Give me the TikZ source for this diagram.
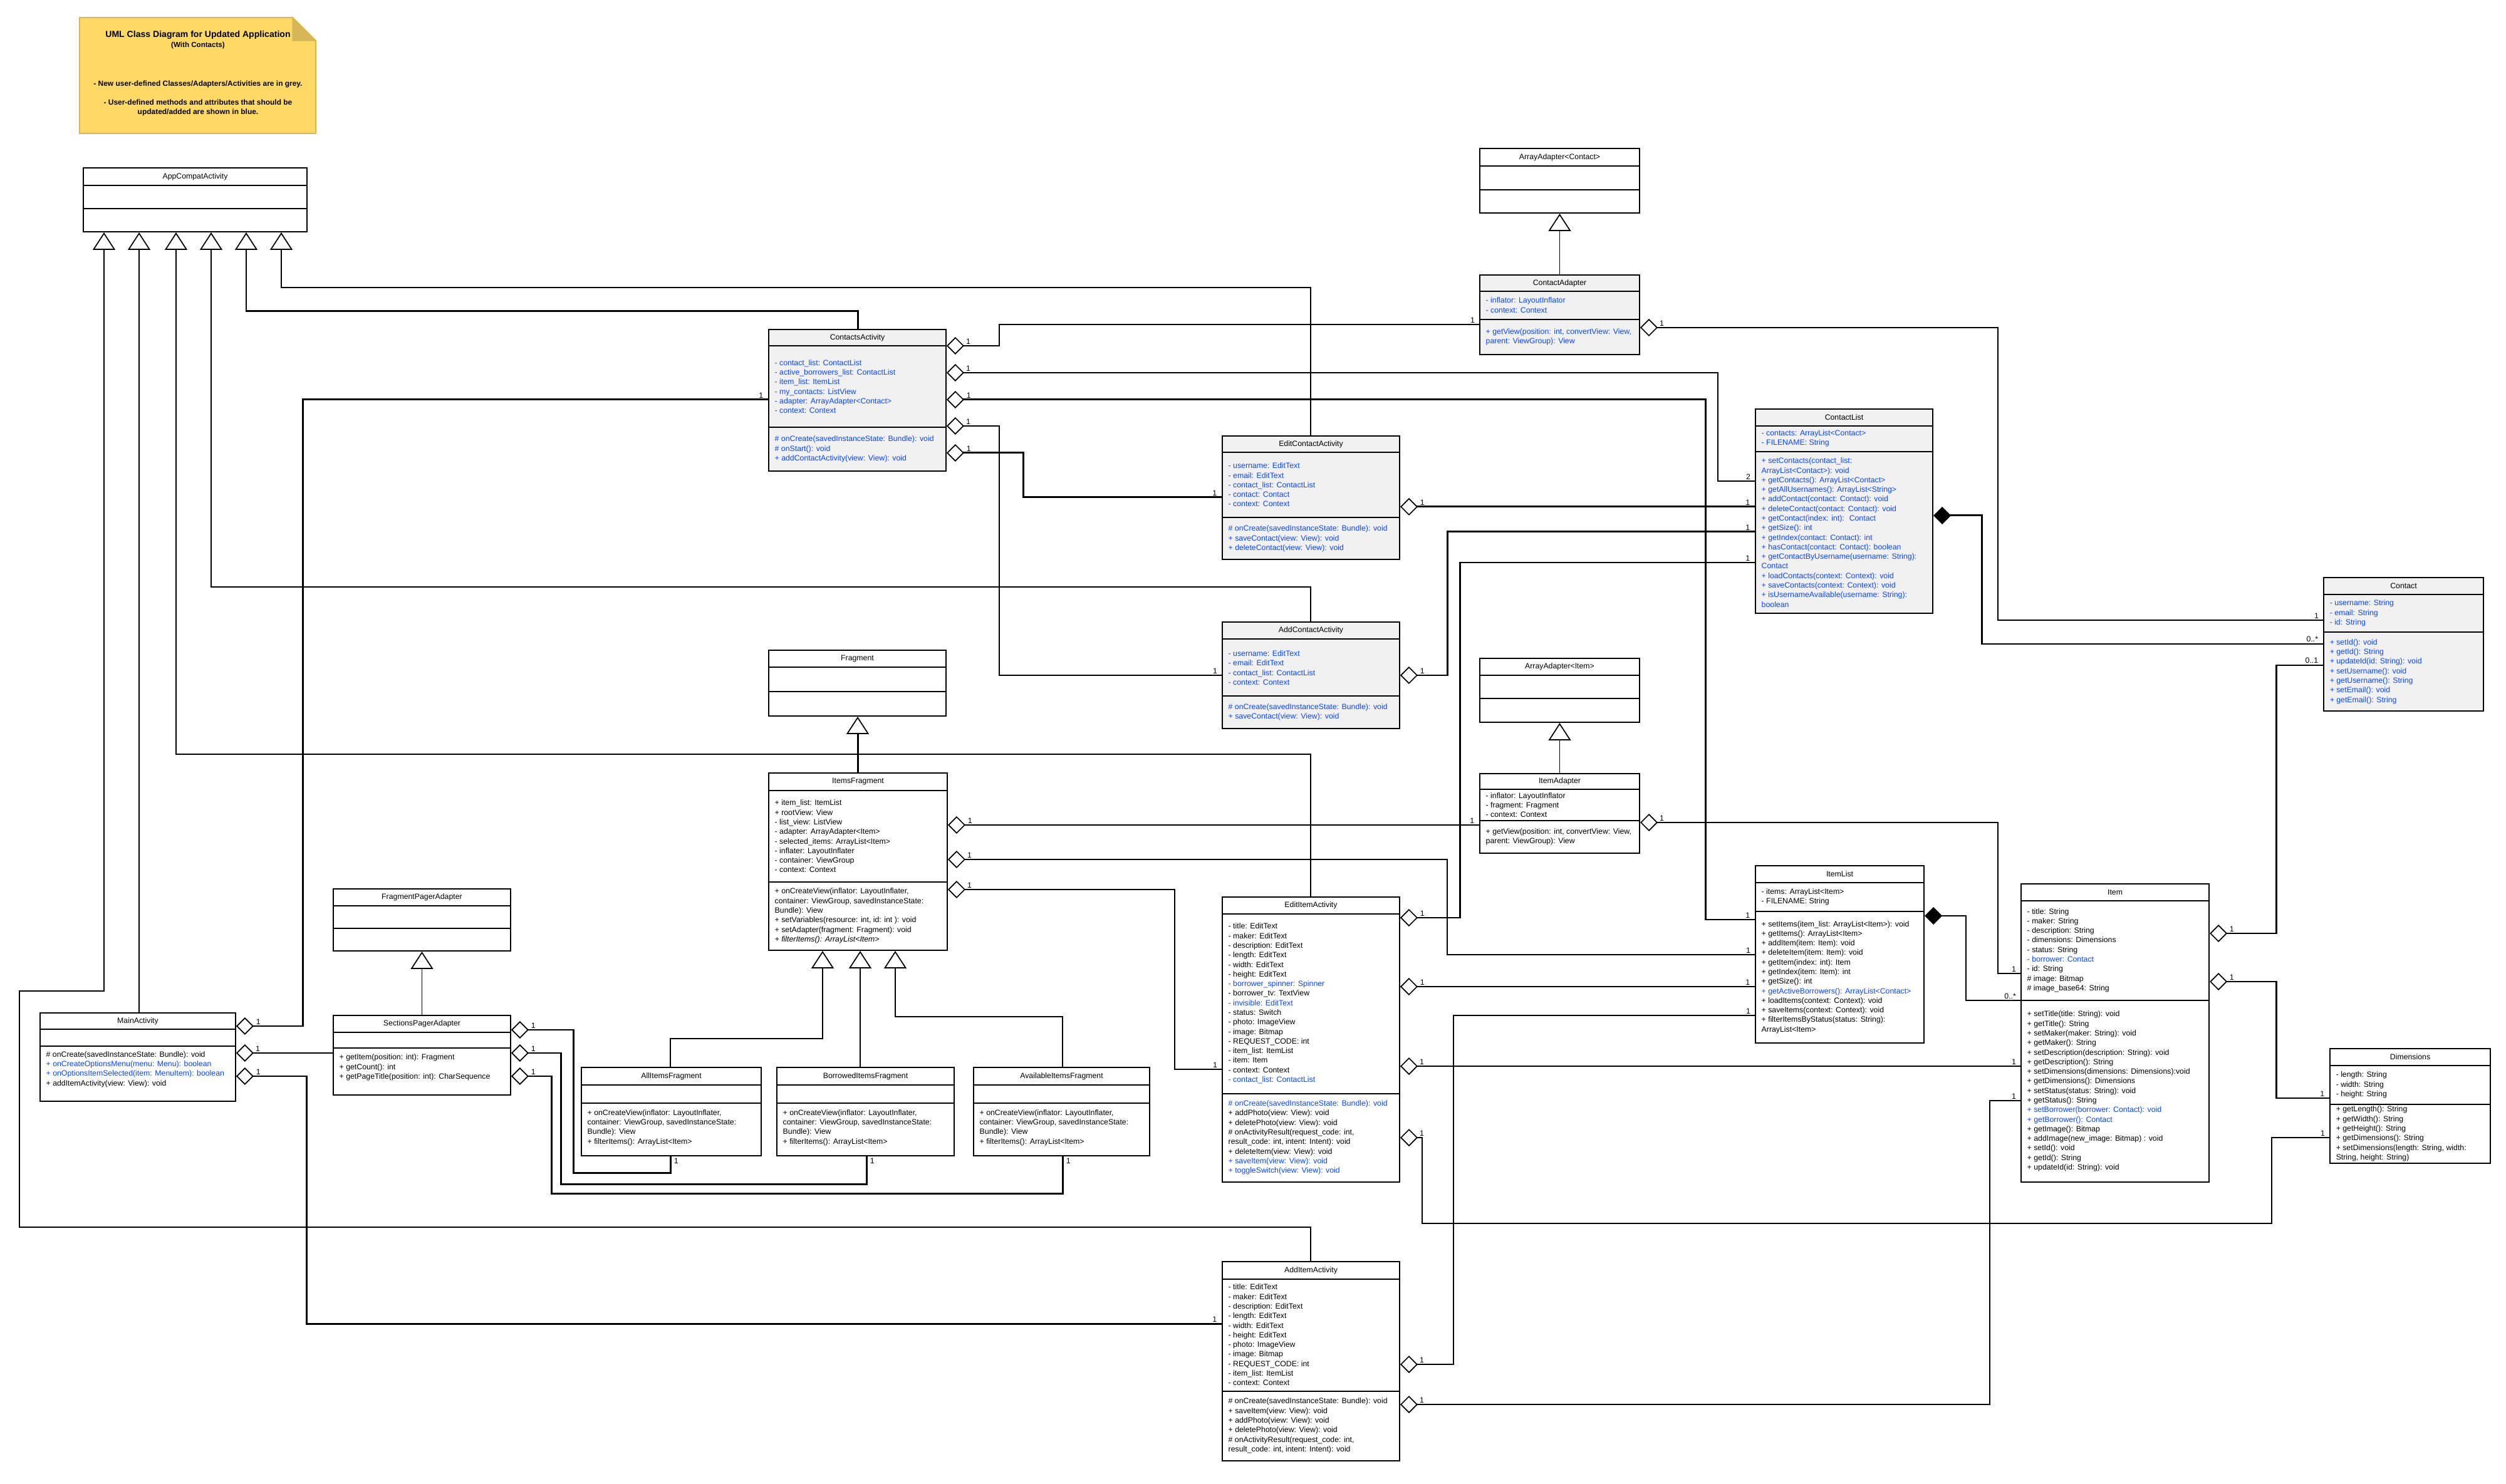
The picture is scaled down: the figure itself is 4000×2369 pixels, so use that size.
\documentclass[tikz,border=0pt]{standalone}
\usepackage{fontspec}
\newfontfamily\umlsans{Liberation Sans}
\usetikzlibrary{arrows.meta,fit}
\definecolor{ublue}{RGB}{10,70,255}
\definecolor{ugrey}{RGB}{241,241,241}
\definecolor{noteyel}{HTML}{FFD966}
\definecolor{notebrd}{HTML}{D6B656}
\newcommand\uml{\umlsans\fontsize{3.5}{4.35}\selectfont}
\newcommand\umlclass[9][white]{\node[cls,fill=#1,fit={(#3,#4)(#5,#6)}](#2){};
 \draw[cls](#3,#7)--(#5,#7) (#3,#8)--(#5,#8);
 \node[ttl](#2-t)at({(#3+#5)/2},{(#4+#7)/2}){#9};}
\tikzset{cls/.style={draw,line width=0.55pt,inner sep=0pt},
 txt/.style={font=\uml,anchor=west,align=left,inner sep=0pt},
 ttl/.style={font=\uml,inner sep=0pt},
 lnk/.style={line width=0.45pt},thk/.style={line width=0.85pt},
 agg/.style={arrows={{Diamond[open,length=2.8mm,width=2.8mm,line width=0.5pt]}-}},
 cmp/.style={arrows={{Diamond[length=2.8mm,width=2.8mm,line width=0.5pt]}-}},
 inh/.style={arrows={-{Triangle[open,length=2.8mm,width=3.6mm,line width=0.5pt]}}},
 m1/.style={font=\uml,anchor=south west,inner sep=0.4pt,xshift=2.9mm},
 m2/.style={font=\uml,anchor=south east,inner sep=0.4pt,xshift=-0.5mm},
 m3/.style={font=\uml,anchor=north west,inner sep=0.4pt,xshift=0.3mm}}
\begin{document}
\begin{tikzpicture}[x=0.1mm,y=-0.1mm]
\useasboundingbox (0,0) rectangle (4000,2369);
\fill[white](0,0) rectangle (4000,2369);
\filldraw[fill=noteyel,draw=notebrd,line width=0.5pt](127,28)--(467,28)--(504,65)--(504,213)--(127,213)--cycle;
\filldraw[fill=notebrd,draw=notebrd](467,28)--(467,65)--(504,65)--cycle;
\node[font=\umlsans\bfseries\fontsize{4}{5}\selectfont](nt1)at(316,56){UML Class Diagram for Updated Application};
\node[font=\umlsans\bfseries\fontsize{3.3}{4}\selectfont](nt2)at(316,73){(With Contacts)};
\node[font=\umlsans\bfseries\fontsize{3.4}{4.5}\selectfont](nt3)at(316,134){- New user-defined Classes/Adapters/Activities are in grey.};
\node[font=\umlsans\bfseries\fontsize{3.4}{4.5}\selectfont,align=center](nt4)at(316,172){- User-defined methods and attributes that should be\\updated/added are shown in blue.};
\umlclass{app}{133}{268}{490}{370}{296}{333}{AppCompatActivity}
\umlclass{aac}{2362}{237}{2617}{340}{265}{303}{ArrayAdapter<Contact>}
\umlclass[ugrey]{cad}{2362}{439}{2617}{566}{465}{510}{ContactAdapter}
\node[txt,text=ublue](cad-a)at(2371,487){- inflator: LayoutInflator\\- context: Context};
\node[txt,text=ublue](cad-m)at(2371,538){+ getView(position: int, convertView: View,\\parent: ViewGroup): View};
\umlclass[ugrey]{csa}{1227}{526}{1510}{752}{552}{682}{ContactsActivity}
\node[txt,text=ublue](csa-a)at(1236,617){- contact\_list: ContactList\\- active\_borrowers\_list: ContactList\\- item\_list: ItemList\\- my\_contacts: ListView\\- adapter: ArrayAdapter<Contact>\\- context: Context};
\node[txt,text=ublue](csa-m)at(1236,717){\# onCreate(savedInstanceState: Bundle): void\\\# onStart(): void\\+ addContactActivity(view: View): void};
\umlclass[ugrey]{eca}{1951}{696}{2234}{893}{722}{826}{EditContactActivity}
\node[txt,text=ublue](eca-a)at(1960,774){- username: EditText\\- email: EditText\\- contact\_list: ContactList\\- contact: Contact\\- context: Context};
\node[txt,text=ublue](eca-m)at(1960,860){\# onCreate(savedInstanceState: Bundle): void\\+ saveContact(view: View): void\\+ deleteContact(view: View): void};
\umlclass[ugrey]{aca}{1951}{993}{2234}{1163}{1020}{1111}{AddContactActivity}
\node[txt,text=ublue](aca-a)at(1960,1066){- username: EditText\\- email: EditText\\- contact\_list: ContactList\\- context: Context};
\node[txt,text=ublue](aca-m)at(1960,1137){\# onCreate(savedInstanceState: Bundle): void\\+ saveContact(view: View): void};
\umlclass[ugrey]{cl}{2802}{653}{3085}{979}{680}{721}{ContactList}
\node[txt,text=ublue](cl-a)at(2811,700){- contacts: ArrayList<Contact>\\- FILENAME: String};
\node[txt,text=ublue](cl-m)at(2811,850){+ setContacts(contact\_list:\\ArrayList<Contact>): void\\+ getContacts(): ArrayList<Contact>\\+ getAllUsernames(): ArrayList<String>\\+ addContact(contact: Contact): void\\+ deleteContact(contact: Contact): void\\+ getContact(index: int):~ Contact\\+ getSize(): int\\+ getIndex(contact: Contact): int\\+ hasContact(contact: Contact): boolean\\+ getContactByUsername(username: String):\\Contact\\+ loadContacts(context: Context): void\\+ saveContacts(context: Context): void\\+ isUsernameAvailable(username: String):\\boolean};
\umlclass[ugrey]{ct}{3709}{922}{3964}{1135}{949}{1009}{Contact}
\node[txt,text=ublue](ct-a)at(3718,979){- username: String\\- email: String\\- id: String};
\node[txt,text=ublue](ct-m)at(3718,1072){+ setId(): void\\+ getId(): String\\+ updateId(id: String): void\\+ setUsername(): void\\+ getUsername(): String\\+ setEmail(): void\\+ getEmail(): String};
\umlclass{frg}{1227}{1038}{1510}{1143}{1065}{1104}{Fragment}
\umlclass{ifr}{1227}{1234}{1512}{1517}{1262}{1408}{ItemsFragment}
\node[txt](ifr-a)at(1236,1335){+ item\_list: ItemList\\+ rootView: View\\- list\_view: ListView\\- adapter: ArrayAdapter<Item>\\- selected\_items: ArrayList<Item>\\- inflater: LayoutInflater\\- container: ViewGroup\\- context: Context};
\node[txt](ifr-m)at(1236,1462){+ onCreateView(inflator: LayoutInflater,\\container: ViewGroup, savedInstanceState:\\Bundle): View\\+ setVariables(resource: int, id: int ): void\\+ setAdapter(fragment: Fragment): void\\\textit{+ filterItems(): ArrayList<Item>}};
\umlclass{aai}{2362}{1051}{2617}{1153}{1078}{1115}{ArrayAdapter<Item>}
\umlclass{iad}{2362}{1235}{2617}{1362}{1260}{1310}{ItemAdapter}
\node[txt](iad-a)at(2371,1285){- inflator: LayoutInflator\\- fragment: Fragment\\- context: Context};
\node[txt](iad-m)at(2371,1336){+ getView(position: int, convertView: View,\\parent: ViewGroup): View};
\umlclass{eia}{1951}{1432}{2234}{1887}{1459}{1746}{EditItemActivity}
\node[txt](eia-a)at(1960,1602){- title: EditText\\- maker: EditText\\- description: EditText\\- length: EditText\\- width: EditText\\- height: EditText\\\textcolor{ublue}{- borrower\_spinner: Spinner}\\- borrower\_tv: TextView\\\textcolor{ublue}{- invisible: EditText}\\- status: Switch\\- photo: ImageView\\- image: Bitmap\\- REQUEST\_CODE: int\\- item\_list: ItemList\\- item: Item\\- context: Context\\\textcolor{ublue}{- contact\_list: ContactList}};
\node[txt](eia-m)at(1960,1816){\textcolor{ublue}{\# onCreate(savedInstanceState: Bundle): void}\\+ addPhoto(view: View): void\\+ deletePhoto(view: View): void\\\# onActivityResult(request\_code: int,\\result\_code: int, intent: Intent): void\\+ deleteItem(view: View): void\\\textcolor{ublue}{+ saveItem(view: View): void}\\\textcolor{ublue}{+ toggleSwitch(view: View): void}};
\umlclass{il}{2802}{1382}{3071}{1665}{1409}{1455}{ItemList}
\node[txt](il-a)at(2811,1432){- items: ArrayList<Item>\\- FILENAME: String};
\node[txt](il-m)at(2811,1560){+ setItems(item\_list: ArrayList<Item>): void\\+ getItems(): ArrayList<Item>\\+ addItem(item: Item): void\\+ deleteItem(item: Item): void\\+ getItem(index: int): Item\\+ getIndex(item: Item): int\\+ getSize(): int\\\textcolor{ublue}{+ getActiveBorrowers(): ArrayList<Contact>}\\+ loadItems(context: Context): void\\+ saveItems(context: Context): void\\+ filterItemsByStatus(status: String):\\ArrayList<Item>};
\umlclass{it}{3226}{1411}{3526}{1887}{1438}{1597}{Item}
\node[txt](it-a)at(3235,1517){- title: String\\- maker: String\\- description: String\\- dimensions: Dimensions\\- status: String\\\textcolor{ublue}{- borrower: Contact}\\- id: String\\\# image: Bitmap\\\# image\_base64: String};
\node[txt](it-m)at(3235,1742){+ setTitle(title: String): void\\+ getTitle(): String\\+ setMaker(maker: String): void\\+ getMaker(): String\\+ setDescription(description: String): void\\+ getDescription(): String\\+ setDimensions(dimensions: Dimensions):void\\+ getDimensions(): Dimensions\\+ setStatus(status: String): void\\+ getStatus(): String\\\textcolor{ublue}{+ setBorrower(borrower: Contact): void}\\\textcolor{ublue}{+ getBorrower(): Contact}\\+ getImage(): Bitmap\\+ addImage(new\_image: Bitmap) : void\\+ setId(): void\\+ getId(): String\\+ updateId(id: String): void};
\umlclass{dim}{3719}{1674}{3975}{1857}{1701}{1763}{Dimensions}
\node[txt](dim-a)at(3728,1732){- length: String\\- width: String\\- height: String};
\node[txt](dim-m)at(3728,1810){+ getLength(): String\\+ getWidth(): String\\+ getHeight(): String\\+ getDimensions(): String\\+ setDimensions(length: String, width:\\String, height: String)};
\umlclass{fpa}{532}{1419}{815}{1518}{1446}{1482}{FragmentPagerAdapter}
\umlclass{spa}{532}{1621}{815}{1748}{1648}{1673}{SectionsPagerAdapter}
\node[txt](spa-m)at(541,1704){+ getItem(position: int): Fragment\\+ getCount(): int\\+ getPageTitle(position: int): CharSequence};
\umlclass{ma}{64}{1617}{376}{1758}{1643}{1670}{MainActivity}
\node[txt](ma-m)at(73,1707){\# onCreate(savedInstanceState: Bundle): void\\\textcolor{ublue}{+ onCreateOptionsMenu(menu: Menu): boolean}\\\textcolor{ublue}{+ onOptionsItemSelected(item: MenuItem): boolean}\\+ addItemActivity(view: View): void};
\umlclass{aif}{928}{1704}{1215}{1845}{1732}{1761}{AllItemsFragment}
\umlclass{bif}{1240}{1704}{1523}{1845}{1732}{1761}{BorrowedItemsFragment}
\umlclass{vif}{1554}{1704}{1835}{1845}{1732}{1761}{AvailableItemsFragment}
\foreach\f/\x in{aif/937,bif/1249,vif/1563}
 \node[txt](\f-m)at(\x,1800){+ onCreateView(inflator: LayoutInflater,\\container: ViewGroup, savedInstanceState:\\Bundle): View\\+ filterItems(): ArrayList<Item>};
\umlclass{aia}{1951}{2014}{2234}{2332}{2042}{2221}{AddItemActivity}
\node[txt](aia-a)at(1960,2131){- title: EditText\\- maker: EditText\\- description: EditText\\- length: EditText\\- width: EditText\\- height: EditText\\- photo: ImageView\\- image: Bitmap\\- REQUEST\_CODE: int\\- item\_list: ItemList\\- context: Context};
\node[txt](aia-m)at(1960,2276){\# onCreate(savedInstanceState: Bundle): void\\+ saveItem(view: View): void\\+ addPhoto(view: View): void\\+ deletePhoto(view: View): void\\\# onActivityResult(request\_code: int,\\result\_code: int, intent: Intent): void};
\draw[lnk,inh](aia.north -| 2092,0)|-(31,1959)|-(166,1582)--(app.south -| 166,0);
\draw[lnk,inh](ma.north -| 222,0)--(app.south -| 222,0);
\draw[lnk,inh](eia.north -| 2092,0)|-(281,1204)--(app.south -| 281,0);
\draw[lnk,inh](aca.north -| 2092,0)|-(337,937)--(app.south -| 337,0);
\draw[thk,inh](csa.north -| 1369,0)|-(393,497)--(app.south -| 393,0);
\draw[lnk,inh](eca.north -| 2092,0)|-(449,459)--(app.south -| 449,0);
\draw[lnk,inh](cad)--(aac);
\draw[lnk,inh](iad)--(aai);
\draw[lnk,inh](spa)--(fpa);
\draw[thk,inh](ifr.north -| 1369,0)--(frg.south -| 1369,0);
\draw[lnk,inh](aif.north -| 1070,0)|-(1313,1658)--(ifr.south -| 1313,0);
\draw[lnk,inh](bif.north -| 1373,0)--(ifr.south -| 1373,0);
\draw[lnk,inh](vif.north -| 1696,0)|-(1429,1623)--(ifr.south -| 1429,0);
\draw[lnk,agg](csa.east |- 0,552)node[m1]{1}-|(1595,518)--(cad.west |- 0,518)node[m2]{1};
\draw[lnk,agg](csa.east |- 0,595)node[m1]{1}-|(2742,768)--(cl.west |- 0,768)node[m2]{2};
\draw[thk,agg](csa.east |- 0,638)node[m1]{1}-|(2722,1468)--(il.west |- 0,1468)node[m2]{1};
\draw[lnk,agg](csa.east |- 0,680)node[m1]{1}-|(1595,1078)--(aca.west |- 0,1078)node[m2]{1};
\draw[thk,agg](csa.east |- 0,723)node[m1]{1}-|(1633,794)--(eca.west |- 0,794)node[m2]{1};
\draw[thk,agg](eca.east |- 0,809)node[m1]{1}--(cl.west |- 0,809)node[m2]{1};
\draw[thk,agg](aca.east |- 0,1078)node[m1]{1}-|(2310,849)--(cl.west |- 0,849)node[m2]{1};
\draw[thk,agg](eia.east |- 0,1465)node[m1]{1}-|(2330,898)--(cl.west |- 0,898)node[m2]{1};
\draw[thk,agg](eia.east |- 0,1575)node[m1]{1}--(il.west |- 0,1575)node[m2]{1};
\draw[lnk,agg](eia.east |- 0,1702)node[m1]{1}--(it.west |- 0,1702)node[m2]{1};
\draw[lnk,agg](eia.east |- 0,1816)node[m1]{1}-|(2270,1953)-|(3626,1816)--(dim.west |- 0,1816)node[m2]{1};
\draw[lnk,agg](aia.east |- 0,2178)node[m1]{1}-|(2320,1621)--(il.west |- 0,1621)node[m2]{1};
\draw[lnk,agg](aia.east |- 0,2242)node[m1]{1}-|(3176,1757)--(it.west |- 0,1757)node[m2]{1};
\draw[thk,agg](ifr.east |- 0,1317)node[m1]{1}--(iad.west |- 0,1317)node[m2]{1};
\draw[lnk,agg](ifr.east |- 0,1372)node[m1]{1}-|(2310,1524)--(il.west |- 0,1524)node[m2]{1};
\draw[lnk,agg](ifr.east |- 0,1420)node[m1]{1}-|(1875,1707)--(eia.west |- 0,1707)node[m2]{1};
\draw[lnk,agg](cad.east |- 0,523)node[m1]{1}-|(3189,990)--(ct.west |- 0,990)node[m2]{1};
\draw[thk,cmp](cl.east |- 0,823)-|(3163,1028)--(ct.west |- 0,1028)node[m2]{0..*};
\draw[thk,agg](it.east |- 0,1490)node[m1]{1}-|(3633,1062)--(ct.west |- 0,1062)node[m2]{0..1};
\draw[thk,agg](it.east |- 0,1567)node[m1]{1}-|(3633,1753)--(dim.west |- 0,1753)node[m2]{1};
\draw[lnk,agg](iad.east |- 0,1313)node[m1]{1}-|(3189,1554)--(it.west |- 0,1554)node[m2]{1};
\draw[lnk,cmp](il.east |- 0,1462)-|(3138,1597)--(it.west |- 0,1597)node[m2]{0..*};
\draw[thk,agg](ma.east |- 0,1638)node[m1]{1}-|(483,638)--(csa.west |- 0,638)node[m2]{1};
\draw[lnk,agg](ma.east |- 0,1681)node[m1]{1}--(spa.west |- 0,1681);
\draw[thk,agg](ma.east |- 0,1718)node[m1]{1}-|(489,2113)--(aia.west |- 0,2113)node[m2]{1};
\draw[thk,agg](spa.east |- 0,1644)node[m1]{1}-|(915,1872)-|(aif.south -| 1070,0)node[m3]{1};
\draw[thk,agg](spa.east |- 0,1681)node[m1]{1}-|(895,1890)-|(bif.south -| 1383,0)node[m3]{1};
\draw[thk,agg](spa.east |- 0,1718)node[m1]{1}-|(880,1905)-|(vif.south -| 1696,0)node[m3]{1};
\end{tikzpicture}
\end{document}
